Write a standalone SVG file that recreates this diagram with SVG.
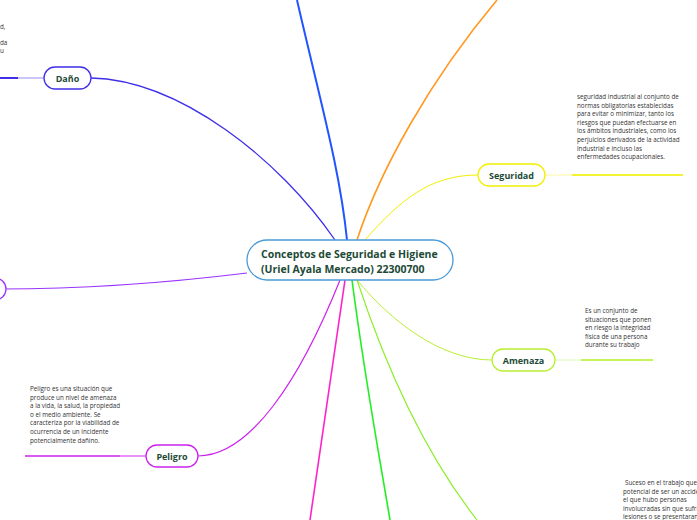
<svg xmlns="http://www.w3.org/2000/svg" width="697" height="520" viewBox="0 0 697 520">
<style>
.n{fill:#fff;stroke-width:1.3}
.l{font-family:"Open Sans","Noto Sans",sans-serif;font-weight:bold;font-size:9px;fill:#1d4a36}
.t{font-family:"Open Sans","Noto Sans",sans-serif;font-size:6.3px;fill:#333}
.c{fill:none}
</style>
<rect width="697" height="520" fill="#fff"/>
<g id="connectors" class="c">
<path d="M297,0 C320,100 340,170 347,240" stroke="#2255ff" stroke-width="2"/>
<path d="M497,0 C430,80 380,170 357,240" stroke="#ff9922" stroke-width="1.6"/>
<path d="M91,78 C180,80 280,160 335,240" stroke="#3f2fe8" stroke-width="1.3"/>
<path d="M365,240 C400,200 430,175 478,175" stroke="#f0f000" stroke-width="1"/>
<path d="M247,273 C150,285 60,289 0,289" stroke="#9933ff" stroke-width="1.2"/>
<path d="M357,280 C390,320 440,360 492,360" stroke="#b8f030" stroke-width="1"/>
<path d="M340,280 C300,380 250,456 198,456" stroke="#cc22ee" stroke-width="1.2"/>
<path d="M345,280 C330,380 318,460 310,520" stroke="#ff22cc" stroke-width="1.6"/>
<path d="M352,280 C365,380 380,460 390,520" stroke="#22ee22" stroke-width="1.6"/>
<path d="M357,280 C390,380 430,460 477,520" stroke="#88ee22" stroke-width="1.1"/>
<path d="M0,78 H44" stroke="#b9b3f6" stroke-width="1.3"/>
<path d="M0,78 H18" stroke="#3f2fe8" stroke-width="2"/>
<path d="M545,175 H683" stroke="#f8f8a0" stroke-width="1"/>
<path d="M572,175 H683" stroke="#f0f000" stroke-width="1.3"/>
<path d="M555,360 H653" stroke="#dcf8b0" stroke-width="1"/>
<path d="M581,360 H653" stroke="#b8f030" stroke-width="1.3"/>
<path d="M25,456 H146" stroke="#cc22ee" stroke-width="1.3"/>
<path d="M120,456 H146" stroke="#ecb0f8" stroke-width="1.3"/>
</g>
<g id="central"><rect class="n" x="247" y="240" width="206" height="40" rx="20" stroke="#4a9ad8"/>
<text class="l" font-size="10.5" x="261" y="258" style="font-size:10.5px">Conceptos de Seguridad e Higiene</text>
<text class="l" x="261" y="273" style="font-size:10.5px">(Uriel Ayala Mercado) 22300700</text></g>
<g id="dano"><rect class="n" x="44" y="67" width="47" height="22" rx="11" stroke="#3f2fe8"/><text class="l" x="67.5" y="81.5" text-anchor="middle">Daño</text>
<text class="t" x="0" y="29">d,</text><text class="t" x="0" y="45">da</text><text class="t" x="0" y="53">u</text></g>
<g id="seguridad"><rect class="n" x="478" y="164" width="67" height="22" rx="11" stroke="#f0f000"/><text class="l" x="511.5" y="178.5" text-anchor="middle">Seguridad</text>
<text class="t"><tspan x="577" y="99">seguridad industrial al conjunto de</tspan><tspan x="577" y="107.6">normas obligatorias establecidas</tspan><tspan x="577" y="116.2">para evitar o minimizar, tanto los</tspan><tspan x="577" y="124.8">riesgos que puedan efectuarse en</tspan><tspan x="577" y="133.4">los ámbitos industriales, como los</tspan><tspan x="577" y="142">perjuicios derivados de la actividad</tspan><tspan x="577" y="150.6">industrial e incluso las</tspan><tspan x="577" y="159.2">enfermedades ocupacionales.</tspan></text></g>
<g id="amenaza"><rect class="n" x="492" y="349" width="63" height="22" rx="11" stroke="#b8f030"/><text class="l" x="523.5" y="363.5" text-anchor="middle">Amenaza</text>
<text class="t"><tspan x="585" y="313">Es un conjunto de</tspan><tspan x="585" y="321.6">situaciones que ponen</tspan><tspan x="585" y="330.2">en riesgo la integridad</tspan><tspan x="585" y="338.8">física de una persona</tspan><tspan x="585" y="347.4">durante su trabajo</tspan></text></g>
<g id="peligro"><rect class="n" x="146" y="445" width="52" height="22" rx="11" stroke="#cc22ee"/><text class="l" x="172" y="459.5" text-anchor="middle">Peligro</text>
<text class="t"><tspan x="30" y="391">Peligro es una situación que</tspan><tspan x="30" y="399.6">produce un nivel de amenaza</tspan><tspan x="30" y="408.2">a la vida, la salud, la propiedad</tspan><tspan x="30" y="416.8">o el medio ambiente. Se</tspan><tspan x="30" y="425.4">caracteriza por la viabilidad de</tspan><tspan x="30" y="434">ocurrencia de un incidente</tspan><tspan x="30" y="442.6">potencialmente dañino.</tspan></text></g>
<g id="izquierda"><rect class="n" x="-40" y="278" width="46" height="22" rx="11" stroke="#9933ff"/></g>
<g id="incidente"><text class="t"><tspan x="625" y="485"> Suceso en el trabajo que</tspan><tspan x="623" y="493.6">potencial de ser un accidente</tspan><tspan x="623" y="502.2">el que hubo personas</tspan><tspan x="623" y="510.8">involucradas sin que sufrieran</tspan><tspan x="623" y="519.4">lesiones o se presentaran</tspan></text></g>
</svg>
